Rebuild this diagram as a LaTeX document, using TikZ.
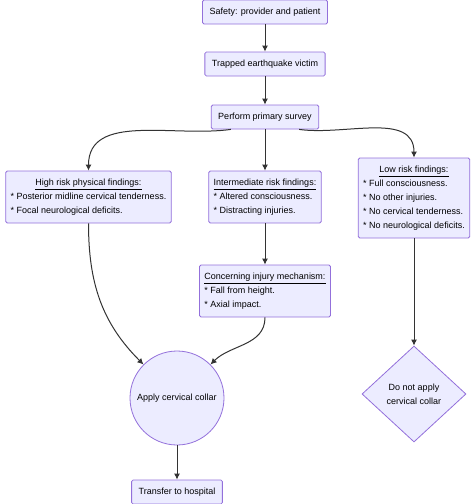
\documentclass[tikz,border=0pt]{standalone}
\usepackage{fontspec}
\setmainfont{Liberation Sans}
\usepackage{xcolor}
\usetikzlibrary{arrows.meta,shapes.geometric}
\definecolor{nodefill}{HTML}{ECECFF}
\definecolor{nodeline}{HTML}{9370DB}
\definecolor{edgeink}{HTML}{333333}
\newcommand{\flowfont}{\fontsize{9}{14}\selectfont}
\tikzset{
  flowcard/.style={draw=nodeline,fill=nodefill,line width=0.8pt,
                   rounded corners=1.5pt,align=center,inner xsep=7pt,
                   inner ysep=4pt,minimum height=24pt,font=\flowfont},
  listcard/.style={flowcard,inner xsep=5pt,inner ysep=5pt},
  roundcard/.style={draw=nodeline,fill=nodefill,line width=0.8pt,circle,
                    minimum size=94pt,inner sep=0pt,font=\flowfont},
  decidecard/.style={draw=nodeline,fill=nodefill,line width=0.8pt,diamond,
                     minimum width=104pt,minimum height=96pt,inner sep=0pt,
                     align=center,font=\flowfont},
  flowarr/.style={-{Latex[length=6pt,width=6pt]},line width=1pt,draw=edgeink}
}
\begin{document}
\begin{tikzpicture}[x=1pt,y=-1pt]
    \useasboundingbox (0,0) rectangle (474,504);
    \node[flowcard] (safety) at (265,12) {Safety: provider and patient};
    \node[flowcard] (trapped) at (265,64) {Trapped earthquake victim};
    \node[flowcard] (survey) at (265,117) {Perform primary survey};

    \node[listcard] (high) at (88.5,197) {\begin{tabular}{@{}l@{}}
      \multicolumn{1}{@{}c@{}}{\underline{High risk physical findings:}}\\
      {*} Posterior midline cervical tenderness.\\
      {*} Focal neurological deficits.\end{tabular}};
    \node[listcard] (inter) at (265,197) {\begin{tabular}{@{}l@{}}
      \multicolumn{1}{@{}c@{}}{\underline{Intermediate risk findings:}}\\
      {*} Altered consciousness.\\
      {*} Distracting injuries.\end{tabular}};
    \node[listcard] (low) at (414,198) {\begin{tabular}{@{}l@{}}
      \multicolumn{1}{@{}c@{}}{\underline{Low risk findings:}}\\
      {*} Full consciousness.\\
      {*} No other injuries.\\
      {*} No cervical tenderness.\\
      {*} No neurological deficits.\end{tabular}};
    \node[listcard] (mech) at (265,291) {\begin{tabular}{@{}l@{}}
      \multicolumn{1}{@{}c@{}}{\underline{Concerning injury mechanism:}}\\
      {*} Fall from height.\\
      {*} Axial impact.\end{tabular}};

    \node[roundcard] (collar) at (177,398) {Apply cervical collar};
    \node[decidecard] (nocollar) at (414,394) {Do not apply\\cervical collar};
    \node[flowcard] (transfer) at (177,492) {Transfer to hospital};

    \draw[flowarr] (safety) -- (trapped);
    \draw[flowarr] (trapped) -- (survey);
    \draw[flowarr] (survey.200) to[out=188,in=90] (high.north);
    \draw[flowarr] (survey) -- (inter);
    \draw[flowarr] (survey.-20) to[out=-8,in=90] (low.north);
    \draw[flowarr] (inter) -- (mech);
    \draw[flowarr] (high.south) to[out=-90,in=135] (collar.135);
    \draw[flowarr] (mech.south) to[out=-90,in=45] (collar.45);
    \draw[flowarr] (low) -- (nocollar);
    \draw[flowarr] (collar) -- (transfer);
  \end{tikzpicture}
\end{document}
